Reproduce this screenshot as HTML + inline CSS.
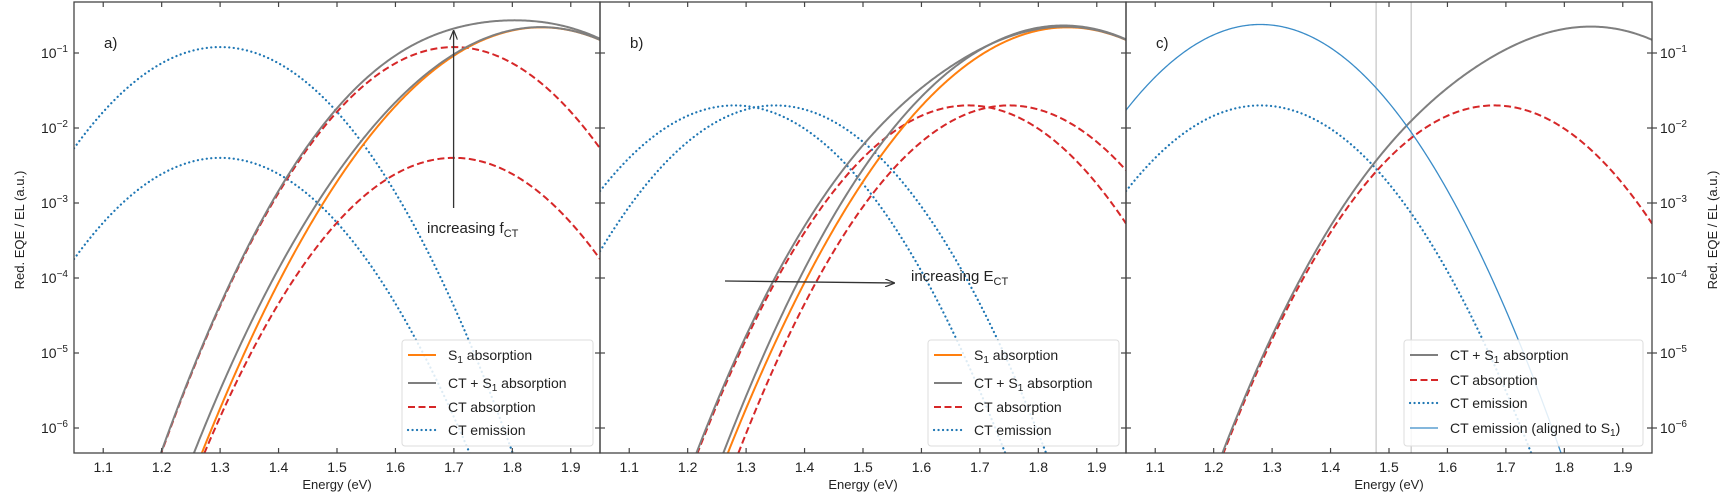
<!DOCTYPE html>
<html><head><meta charset="utf-8"><style>
html,body{margin:0;padding:0;background:#fff;overflow:hidden;width:1725px;height:493px;}
svg{display:block;font-family:"Liberation Sans","DejaVu Sans",sans-serif;}
</style></head><body>
<svg id="s" width="1725" height="493" viewBox="0 0 1725 493" xmlns="http://www.w3.org/2000/svg"></svg>
<script>
const S=document.getElementById('s');
const NS='http://www.w3.org/2000/svg';
function el(t,a,txt){const e=document.createElementNS(NS,t);for(const k in a)e.setAttribute(k,a[k]);if(txt!==undefined)e.innerHTML=txt;S.appendChild(e);return e;}
const T=2,B=453,W=526;
const lefts=[74,600,1126];
function Y(lg){return 53+(-1-lg)*75;}
function X(L,E){return L+(E-1.05)/0.9*W;}
const aCT=21.6,aS=16.8;
function g(A,E0,a){return E=>Math.pow(10,Math.log10(A)-a*(E-E0)*(E-E0));}
const S1=g(0.22,1.85,aS);
function sum(f,h){return E=>f(E)+h(E);}
const OR='#ff7f0e',GR='#7f7f7f',RD='#d62728',BL='#1f77b4';
const styles={s:{stroke:OR,'stroke-width':2},g:{stroke:GR,'stroke-width':2},d:{stroke:RD,'stroke-width':2,'stroke-dasharray':'7,3.5'},o:{stroke:BL,'stroke-width':2.2,'stroke-dasharray':'0.1,4.4','stroke-linecap':'round'},b:{stroke:'#3a8cc8','stroke-width':1.3}};
lefts.forEach((L,i)=>{const c=el('clipPath',{id:'c'+i});const r=document.createElementNS(NS,'rect');r.setAttribute('x',L);r.setAttribute('y',T);r.setAttribute('width',W);r.setAttribute('height',B-T);c.appendChild(r);});
function curve(i,f,st){const L=lefts[i];let d='';for(let k=0;k<=400;k++){const E=1.05+0.9*k/400;let v=Math.log10(f(E));let y=Y(v);if(y>600)y=600;d+=(k?'L':'M')+X(L,E).toFixed(2)+' '+y.toFixed(2);}
const a=Object.assign({d:d,fill:'none','clip-path':'url(#c'+i+')'},styles[st]);el('path',a);}
[1.478,1.538].forEach(E=>el('line',{x1:X(1126,E),x2:X(1126,E),y1:T,y2:B,stroke:'#d0d0d0','stroke-width':1.5}));
curve(0,g(0.12,1.3,aCT),'o');curve(0,g(0.004,1.3,aCT),'o');
curve(0,g(0.12,1.7,aCT),'d');curve(0,g(0.004,1.7,aCT),'d');
curve(0,S1,'s');
curve(0,sum(S1,g(0.12,1.7,aCT)),'g');curve(0,sum(S1,g(0.004,1.7,aCT)),'g');
curve(1,g(0.02,1.28,aCT),'o');curve(1,g(0.02,1.35,aCT),'o');
curve(1,g(0.02,1.68,aCT),'d');curve(1,g(0.02,1.75,aCT),'d');
curve(1,S1,'s');
curve(1,sum(S1,g(0.02,1.68,aCT)),'g');curve(1,sum(S1,g(0.02,1.75,aCT)),'g');
curve(2,g(0.02,1.28,aCT),'o');curve(2,g(0.02,1.68,aCT),'d');
curve(2,sum(S1,g(0.02,1.68,aCT)),'g');curve(2,g(0.24,1.28,aCT),'b');
lefts.forEach((L,i)=>{
 el('rect',{x:L,y:T,width:W,height:B-T,fill:'none',stroke:'#444','stroke-width':1.3});
 for(let t=1.1;t<1.95;t+=0.1){const x=X(L,t);el('line',{x1:x,x2:x,y1:B,y2:B-5,stroke:'#444','stroke-width':1.2});el('line',{x1:x,x2:x,y1:T,y2:T+5,stroke:'#444','stroke-width':1.2});
 el('text',{x:x,y:472,'font-size':14,'text-anchor':'middle',fill:'#222'},t.toFixed(1));}
 for(let p=-1;p>=-6;p--){const y=Y(p);el('line',{x1:L,x2:L+5,y1:y,y2:y,stroke:'#444','stroke-width':1.2});el('line',{x1:L+W,x2:L+W-5,y1:y,y2:y,stroke:'#444','stroke-width':1.2});}
 el('text',{x:L+W/2,y:489,'font-size':13,'text-anchor':'middle',fill:'#222'},'Energy (eV)');
 el('text',{x:L+30,y:48,'font-size':15,fill:'#222'},['a)','b)','c)'][i]);
});
for(let p=-1;p>=-6;p--){const y=Y(p);
 el('text',{x:68,y:y+5,'font-size':14,'text-anchor':'end',fill:'#222'},'10<tspan dy="-6" font-size="10">−'+(-p)+'</tspan>');
 el('line',{x1:1652,x2:1657,y1:y,y2:y,stroke:'#444','stroke-width':1.2});
 el('text',{x:1660,y:y+5,'font-size':14,fill:'#222'},'10<tspan dy="-6" font-size="10">−'+(-p)+'</tspan>');}
el('text',{x:0,y:0,'font-size':13,'text-anchor':'middle',fill:'#222',transform:'translate(24,230) rotate(-90)'},'Red. EQE / EL (a.u.)');
el('text',{x:0,y:0,'font-size':13,'text-anchor':'middle',fill:'#222',transform:'translate(1717,230) rotate(-90)'},'Red. EQE / EL (a.u.)');
el('defs',{},'<marker id="ah" markerWidth="10" markerHeight="8" refX="9" refY="4" orient="auto" markerUnits="userSpaceOnUse"><path d="M0,0 L10,4 L0,8" fill="none" stroke="#333" stroke-width="1.2"/></marker>');
el('line',{x1:453.6,x2:453.6,y1:208,y2:31,stroke:'#333','stroke-width':1.3,'marker-end':'url(#ah)'});
el('text',{x:427,y:233,'font-size':15,fill:'#222'},'increasing f<tspan dy="4" font-size="11">CT</tspan>');
el('line',{x1:725,x2:894,y1:281,y2:283,stroke:'#333','stroke-width':1.3,'marker-end':'url(#ah)'});
el('text',{x:911,y:281,'font-size':15,fill:'#222'},'increasing E<tspan dy="4" font-size="11">CT</tspan>');
function legend(x,y,w,h,rows,ys){el('rect',{x:x,y:y,width:w,height:h,rx:3,fill:'#fff','fill-opacity':0.85,stroke:'#ddd','stroke-width':1});
 rows.forEach((r,k)=>{const yy=ys[k];el('line',Object.assign({x1:x+6,x2:x+34,y1:yy,y2:yy},styles[r[0]]));el('text',{x:x+46,y:yy+5,'font-size':14,fill:'#222'},r[1]);});}
const S1t='S<tspan dy="3" font-size="10">1</tspan><tspan dy="-3"> absorption</tspan>';
const R=[['s',S1t],['g','CT + '+S1t],['d','CT absorption'],['o','CT emission']];
legend(402,340,191,106,R,[355,383,407,430]);
legend(928,340,191,106,R,[355,383,407,430]);
legend(1404,340,239,106,[['g','CT + '+S1t],['d','CT absorption'],['o','CT emission'],['b','CT emission (aligned to S<tspan dy="3" font-size="10">1</tspan><tspan dy="-3">)</tspan>']],[355,380,403,428]);
</script>
</body></html>
